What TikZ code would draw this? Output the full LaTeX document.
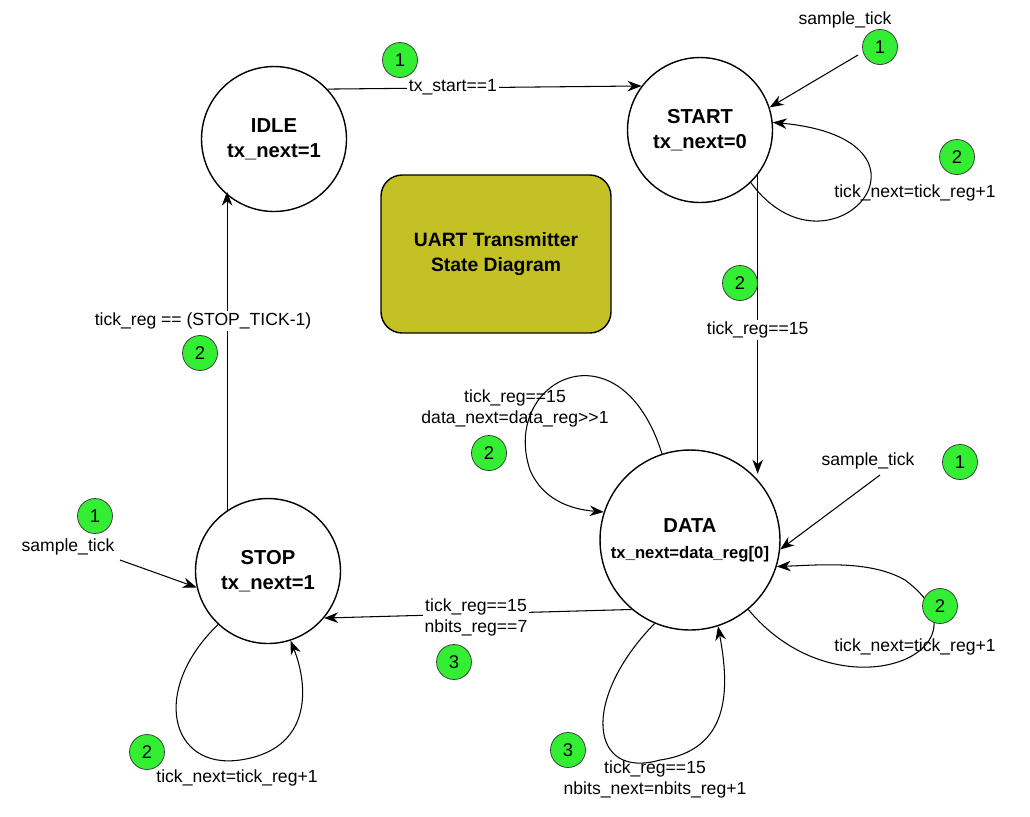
\documentclass[tikz,border=0pt]{standalone}
\usepackage{fontspec}
\setmainfont{Liberation Sans}
\usetikzlibrary{arrows.meta}
\definecolor{badgegreen}{HTML}{33EE33}
\definecolor{boxolive}{HTML}{C4C126}
\tikzset{
  state/.style={circle, draw, thick, minimum size=2.9cm, align=center, font=\fontsize{11.5}{14}\selectfont\bfseries},
  badge/.style={circle, draw=black!80, fill=badgegreen, minimum size=0.7cm, inner sep=0pt, font=\fontsize{10.5}{12}\selectfont},
  lbl/.style={font=\fontsize{10}{12}\selectfont, align=center, inner sep=1pt},
  edge/.style={-{Stealth[length=8pt,width=6pt]}, semithick}
}
\begin{document}
\begin{tikzpicture}[x=0.02cm, y=-0.02cm]
    \useasboundingbox (0,0) rectangle (1030,816);

    % States
    \node[state] (idle) at (274,139) {IDLE\\tx\_next=1};
    \node[state] (start) at (700,130) {START\\tx\_next=0};
    \node[state, minimum size=3.6cm] (data) at (690,540) {DATA\\[1pt]{\fontsize{9.5}{11}\selectfont tx\_next=data\_reg[0]}};
    \node[state] (stop) at (268,571) {STOP\\tx\_next=1};

    % Title box
    \node[draw, thick, rounded corners=12pt, fill=boxolive, minimum width=4.6cm, minimum height=3.16cm,
          align=center, font=\fontsize{11}{14}\selectfont\bfseries] (title) at (496,254) {UART Transmitter\\State Diagram};

    % IDLE -> START
    \draw[edge] (idle.43) -- (start.143) node[lbl, fill=white, midway, xshift=-18pt] (lstart) {tx\_start==1};
    \node[badge] (b1) at (400,60) {1};

    % START inputs
    \node[lbl] (stickA) at (845,20) {sample\_tick};
    \node[badge] (b2) at (880,47) {1};
    \coordinate (stickAend) at (858,55);
    \draw[edge] (stickAend) -- (start.18);
    \draw[edge] (start.-46) .. controls (830,290) and (960,140) .. (start.6);
    \node[lbl] (lstartloop) at (915,193) {tick\_next=tick\_reg+1};
    \node[badge] (b3) at (957,157) {2};

    % START -> DATA
    \draw[edge] (start.-38) -- (start.-38 |- data.47) node[lbl, fill=white, pos=0.52] (ldata) {tick\_reg==15};
    \node[badge] (b4) at (740,283) {2};

    % DATA top-left loop
    \draw[edge] (data.108) .. controls (620,320) and (500,380) .. (530,470) .. controls (545,505) and (580,510) .. (data.162);
    \node[lbl] (ldataloop) at (515,408) {tick\_reg==15\\data\_next=data\_reg>{}>1};
    \node[badge] (b5) at (489,453) {2};

    % DATA inputs
    \node[lbl] (stickB) at (868,461) {sample\_tick};
    \node[badge] (b6) at (960,462) {1};
    \coordinate (stickBend) at (880,475);
    \draw[edge] (stickBend) -- (data.-6);
    \draw[edge] (data.-50) .. controls (840,720) and (1000,650) .. (905,580) .. controls (870,560) and (820,565) .. (data.-17);
    \node[lbl] (ldataloop2) at (915,647) {tick\_next=tick\_reg+1};
    \node[badge] (b7) at (940,606) {2};

    % DATA bottom loop
    \draw[edge] (data.-113) .. controls (580,700) and (590,780) .. (660,760) .. controls (730,750) and (730,690) .. (data.-72);
    \node[lbl] (ldataloop3) at (655,779) {tick\_reg==15\\nbits\_next=nbits\_reg+1};
    \node[badge] (b8) at (568,750) {3};

    % DATA -> STOP
    \draw[edge] (data.-130) -- (stop.-40);
    \node[lbl, fill=white] (lstop) at (476,617) {tick\_reg==15\\nbits\_reg==7};
    \node[badge] (b9) at (454,662) {3};

    % STOP -> IDLE
    \draw[edge] (stop.124) -- (stop.124 |- idle.-134);
    \node[lbl, fill=white] (lidle) at (203,321) {tick\_reg == (STOP\_TICK-1)};
    \node[badge] (b10) at (200,353) {2};

    % STOP inputs
    \node[lbl] (stickC) at (68,547) {sample\_tick};
    \node[badge] (b11) at (95,516) {1};
    \coordinate (stickCend) at (120,560);
    \draw[edge] (stickCend) -- (stop.193);
    \draw[edge] (stop.-133) .. controls (150,690) and (170,770) .. (240,760) .. controls (310,750) and (310,690) .. (stop.-72);
    \node[lbl] (lstoploop) at (237,778) {tick\_next=tick\_reg+1};
    \node[badge] (b12) at (147,752) {2};
\end{tikzpicture}
\end{document}
